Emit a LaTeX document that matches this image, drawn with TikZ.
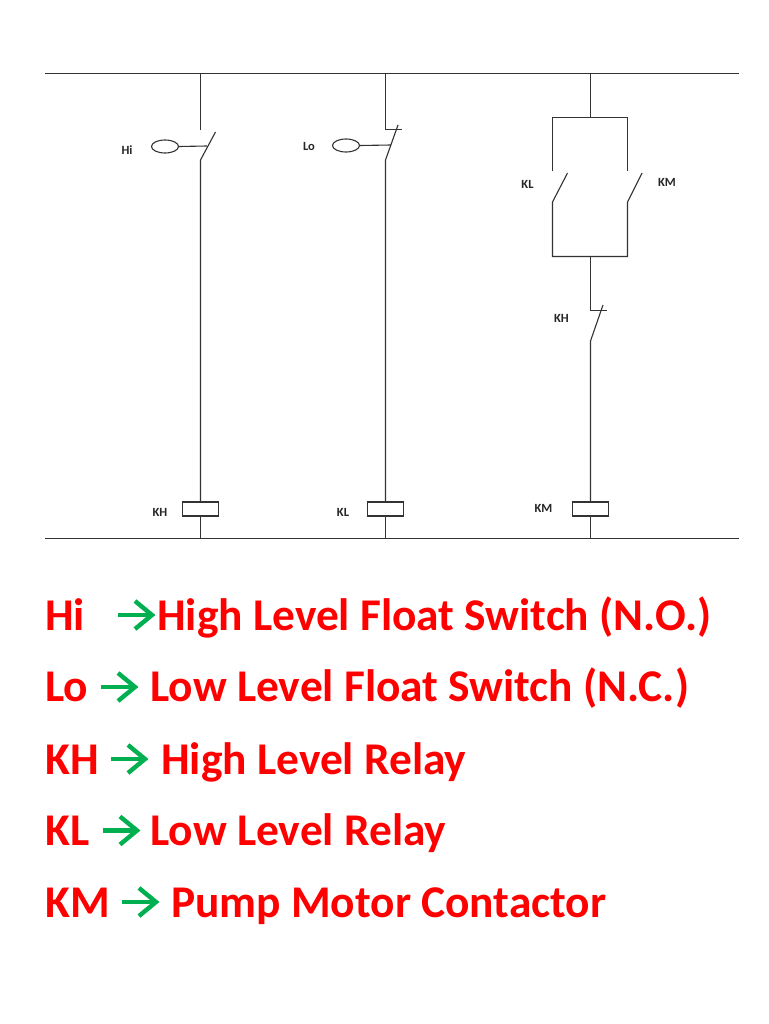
\documentclass[tikz,border=0pt]{standalone}
\usepackage{fontspec}
\setmainfont{Carlito}
\usetikzlibrary{shapes.geometric,calc}
\definecolor{wirec}{HTML}{333333}
\definecolor{legred}{HTML}{FF0000}
\definecolor{leggreen}{HTML}{00B050}
\tikzset{
 wire/.style={draw=wirec,line width=1.1pt},
 coil/.style={draw=wirec,line width=1.2pt,fill=white,rectangle,minimum width=35.5pt,minimum height=14pt,inner sep=0pt},
 floatb/.style={draw=wirec,line width=1.1pt,ellipse,minimum width=27pt,minimum height=13pt,inner sep=0pt},
 tag/.style={font=\bfseries\fontsize{12.5}{14}\selectfont,text=black!85,inner sep=0pt},
 legend/.style={font=\bfseries\fontsize{45.4}{50}\selectfont,text=legred,anchor=base west,inner sep=0pt},
 legarrow/.style={draw=leggreen,line width=4.4pt,miter limit=10},
}
\begin{document}
\begin{tikzpicture}[x=1pt,y=-1pt]
\useasboundingbox[fill=white] (0,0) rectangle (768,1024);
% buses
\coordinate (t0) at (45,73.5); \coordinate (t1) at (739,73.5);
\coordinate (b0) at (45,538.5); \coordinate (b1) at (739,538.5);
\draw[wire] (t0) -- (t1);
\draw[wire] (b0) -- (b1);
% coils
\node[coil] (kh) at (200.5,509) {};
\node[coil] (kl) at (385.5,509) {};
\node[coil] (km) at (590.5,509) {};
\foreach \n in {kh,kl,km}{
  \draw[wire] (\n.south) -- (\n.south |- b0);
}
% rung 1
\coordinate (a1) at (200.5,73.5); \coordinate (a2) at (200.5,130);
\coordinate (a3) at (200.5,160); \coordinate (a4) at (215.5,132);
\draw[wire] (a1) -- (a2);
\draw[wire] (kh.north) -- (a3) -- (a4);
\node[floatb] (fh) at (165,146.5) {};
\coordinate (a5) at (207,146);
\draw[wire] (fh.east) -- (a5);
% rung 2
\coordinate (c1) at (385.5,73.5); \coordinate (c2) at (385.5,129.5); \coordinate (c3) at (402,129.5);
\coordinate (c4) at (385.5,160); \coordinate (c5) at (398,125);
\draw[wire] (c1) -- (c2) -- (c3);
\draw[wire] (kl.north) -- (c4) -- (c5);
\node[floatb] (fl) at (346,145.5) {};
\coordinate (c6) at (391,145);
\draw[wire] (fl.east) -- (c6);
% rung 3
\coordinate (d1) at (590.5,73.5); \coordinate (d2) at (590.5,117.5);
\coordinate (dl1) at (552.5,117.5); \coordinate (dl2) at (552.5,171);
\coordinate (dl3) at (552.5,202); \coordinate (dl4) at (567.5,173);
\coordinate (dr1) at (627.5,117.5); \coordinate (dr2) at (627.5,171);
\coordinate (dr3) at (627.5,202); \coordinate (dr4) at (642,173);
\coordinate (dl5) at (552.5,256.5); \coordinate (dr5) at (627.5,256.5);
\coordinate (d3) at (590.5,256.5); \coordinate (d4) at (590.5,310.5); \coordinate (d5) at (607,310.5);
\coordinate (d6) at (590.5,341); \coordinate (d7) at (603,305);
\draw[wire] (d1) -- (d2);
\draw[wire] (dl2) -- (dl1) -- (dr1) -- (dr2);
\draw[wire] (dl4) -- (dl3) -- (dl5) -- (dr5) -- (dr3) -- (dr4);
\draw[wire] (d3) -- (d4) -- (d5);
\draw[wire] (km.north) -- (d6) -- (d7);
% small labels
\node[tag] (lhi) at (127,150) {Hi};
\node[tag] (llo) at (309,146) {Lo};
\node[tag] (lkl2) at (527.5,184) {KL};
\node[tag] (lkm2) at (667,182.5) {KM};
\node[tag] (lkh2) at (561.5,318) {KH};
\node[tag] (lkh) at (160,512) {KH};
\node[tag] (lkl) at (343,512) {KL};
\node[tag] (lkm) at (543.5,508) {KM};
% legend
\node[legend] (h1) at (45,630) {Hi};
\node[legend] (t1x) at (157,630) {High Level Float Switch (N.O.)};
\node[legend] (h2) at (45,701.5) {Lo};
\node[legend] (t2x) at (150,701.5) {Low Level Float Switch (N.C.)};
\node[legend] (h3) at (45,774) {KH};
\node[legend] (t3x) at (161,774) {High Level Relay};
\node[legend] (h4) at (45,845.5) {KL};
\node[legend] (t4x) at (150,845.5) {Low Level Relay};
\node[legend] (h5) at (45,917) {KM};
\node[legend] (t5x) at (171,917) {Pump Motor Contactor};
\foreach \x/\y/\n in {118/615/a,101/687/b,111/759/c,103/830.5/d,122/902/e}{
  \coordinate (ar\n) at (\x,\y);
  \draw[legarrow] (ar\n) -- ++(33,0);
  \draw[legarrow] ($(ar\n)+(17,-14)$) -- ++(17,14) -- ++(-17,14);
}
\end{tikzpicture}
\end{document}
